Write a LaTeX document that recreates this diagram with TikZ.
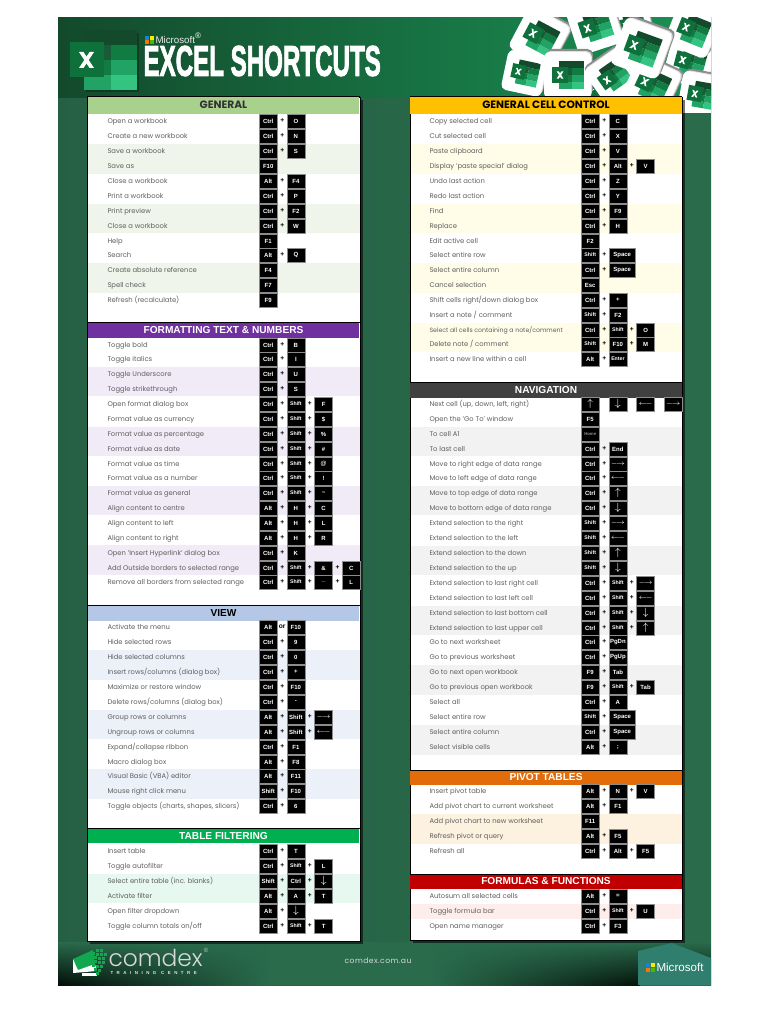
\documentclass[tikz,border=0pt]{standalone}
\usepackage{fontspec}
\usetikzlibrary{fadings}
\setmainfont{Poppins}
\newfontfamily\capfont{Liberation Sans}
\newfontfamily\titlefont[BoldFeatures={FakeBold=2.5}]{Liberation Sans}
\newfontfamily\spacedfont[LetterSpace=80]{Liberation Sans}
\newfontfamily\urlfont[LetterSpace=6]{Poppins}
\newfontfamily\thinfont{Poppins Light}
\definecolor{xlA}{HTML}{33C481}
\definecolor{xlB}{HTML}{21A366}
\definecolor{xlC}{HTML}{107C41}
\definecolor{xlD}{HTML}{185C37}
\definecolor{posterA}{HTML}{2A6B4C}
\definecolor{rowgrey}{HTML}{5F5F5F}
\definecolor{comgreen}{HTML}{12A84F}
\definecolor{barlime}{HTML}{A9D18E}
\definecolor{barpurple}{HTML}{7030A0}
\definecolor{barblue}{HTML}{B4C7E7}
\definecolor{bargreen}{HTML}{00B050}
\definecolor{bargold}{HTML}{FFC000}
\definecolor{bardark}{HTML}{404040}
\definecolor{barorange}{HTML}{E36C0A}
\definecolor{barred}{HTML}{C00000}
\definecolor{tintlime}{HTML}{EFF5EA}
\definecolor{tintpurple}{HTML}{F1EAF7}
\definecolor{tintblue}{HTML}{EBF0F9}
\definecolor{tintmint}{HTML}{E6F8EF}
\definecolor{tintyellow}{HTML}{FFFCE8}
\definecolor{tintgrey}{HTML}{F2F2F2}
\definecolor{tintorange}{HTML}{FDF2DF}
\definecolor{tintred}{HTML}{FDEEEB}
\definecolor{msteal}{HTML}{2F7E6E}

\tikzset{every picture/.style={line width=0.75pt}}
\tikzset{
  every pic/.style={transform shape},
  rowtext/.style={anchor=base west,inner sep=0pt,text=rowgrey,font=\rowsize},
  keycap/.style={anchor=west,inner sep=0pt,fill=black,draw=black!45,line width=0.3pt,text=white,
    minimum width=13.5pt,minimum height=10.6pt,font=\capfont\bfseries\fontsize{4.5}{5}\selectfont},
  keysep/.style={inner sep=0pt,text=black,font=\capfont\bfseries\fontsize{5}{5}\selectfont},
  sechead/.style={inner sep=0pt,minimum width=203.5pt,font=\capfont\bfseries\fontsize{7.6}{8}\selectfont},
  xlicon/.pic={
    \fill[xlA] (7.5,-30) -- (33.5,-30) -- (33.5,-15) -- (7.5,-15) -- cycle;
    \fill[xlB] (-19.5,-30) -- (7.5,-30) -- (7.5,-15) -- (-19.5,-15) -- cycle;
    \fill[xlB] (7.5,-15) -- (33.5,-15) -- (33.5,0) -- (7.5,0) -- cycle;
    \fill[xlC] (-19.5,-15) -- (7.5,-15) -- (7.5,0) -- (-19.5,0) -- cycle;
    \fill[xlC] (7.5,0) -- (33.5,0) -- (33.5,15) -- (7.5,15) -- cycle;
    \fill[xlD] (-19.5,0) -- (7.5,0) -- (7.5,15) -- (-19.5,15) -- cycle;
    \fill[xlD!80!black] (-19.5,15) -- (33.5,15) -- (33.5,30) -- (-19.5,30) -- cycle;
    \fill[xlC!90!black] (-33.5,-17) -- (0.5,-17) -- (0.5,18) -- (-33.5,18) -- cycle;
    \fill[white] (-24.5,-8) -- (-20,-8) -- (-9.5,8) -- (-14,8) -- cycle;
    \fill[white] (-14,-8) -- (-9.5,-8) -- (-20,8) -- (-24.5,8) -- cycle;
  },
  xltile/.pic={
    \fill[black!45,rounded corners=4pt] (-42,-38) rectangle (48,50);
    \fill[black!12,rounded corners=4pt] (-44,-44) rectangle (46,46);
    \fill[white,rounded corners=4pt] (-46,-46) rectangle (44,44);
    \pic[scale=0.9] at (0,0) {xlicon};
  },
  msflag/.pic={
    \fill[orange!90!red] (-4.3,-4.3) rectangle (-0.3,-0.3);
    \fill[green!60!black!70!yellow] (0.3,-4.3) rectangle (4.3,-0.3);
    \fill[cyan!70!blue] (-4.3,0.3) rectangle (-0.3,4.3);
    \fill[yellow!90!orange] (0.3,0.3) rectangle (4.3,4.3);
  },
}

\newcommand{\rowsize}{\fontsize{5.1}{6}\selectfont}
\newcommand{\kup}{{\fontsize{8}{8}\selectfont$\uparrow$}}
\newcommand{\kdown}{{\fontsize{8}{8}\selectfont$\downarrow$}}
\newcommand{\kleft}{{\fontsize{4.5}{5}\selectfont$\longleftarrow$}}
\newcommand{\kright}{{\fontsize{4.5}{5}\selectfont$\longrightarrow$}}
\newcommand{\widekey}[1]{\makebox[20pt]{#1}}
\newcommand{\kshift}{{\fontsize{3.9}{5}\selectfont Shift}}

% one line of a table: sign between keys, name, y, description, keys
\newcommand{\keyrow}[5][+]{
  \node[rowtext] (#2) at (\textx,#3+2.5) {#4};
  \foreach \k [count=\i] in {#5} {
    \pgfmathsetmacro{\kx}{\keyx+(\i-1)*27.7}
    \node[keycap] (#2k\i) at (\kx,#3) {\k};
    \ifnum\i>1 \node[keysep] (#2s\i) at (\kx-4.5,#3) {#1}; \fi
  }
}
% section title bar: name, y, height, fill, text colour, title
\newcommand{\sectionbar}[6]{
  \node[sechead,fill=#4,text=#5,minimum height=#3*0.75pt] (#1) at ({(\panelL+\panelR)/2},#2) {#6};
  \draw[black,line width=0.7pt] (#1.north west) -- (#1.north east);
}
\newcommand{\rowtint}[3]{\fill[#3] (\panelL,#1) rectangle (\panelR,#2);}

\begin{document}
\begin{tikzpicture}[x=0.75pt,y=0.75pt,yscale=-1,xscale=1]
    \useasboundingbox (0,0) rectangle (768,1024);

    %poster background
    \shade[left color=posterA!90!black,right color=posterA] (58,18) rectangle (711,985);
    \shade[left color=xlD!80!black,right color=xlC!70!xlA] (58,18) rectangle (711,97);
    \shade[left color=black!85!xlD,right color=posterA] (58,942) rectangle (270,985);
    \fill[posterA] (270,942) rectangle (430,985);
    \shade[left color=posterA,right color=black!80!xlD] (430,942) rectangle (640,985);
    \fill[black!80!xlD] (640,942) rectangle (711,985);
    \fill[posterA,path fading=south] (58,942) rectangle (711,985);

    %tiles top right
    \begin{scope}
      \clip (400,18) rectangle (711,112);
      \pic[scale=0.45,rotate=-12] at (525,73) {xltile};
      \pic[scale=0.42,rotate=15] at (632,24) {xltile};
      \pic[scale=0.5,rotate=-15] at (690,62) {xltile};
      \pic[scale=0.55,rotate=-25] at (597,95) {xltile};
      \pic[scale=0.52,rotate=-28] at (540,37) {xltile};
      \pic[scale=0.52,rotate=18] at (595,26) {xltile};
      \pic[scale=0.5,rotate=-22] at (693,30) {xltile};
      \pic[scale=0.52,rotate=0] at (568,75) {xltile};
      \pic[scale=0.48,rotate=35] at (613,76) {xltile};
      \pic[scale=0.52,rotate=-25] at (652,85) {xltile};
      \pic[scale=0.48,rotate=-10] at (702,95) {xltile};
      \pic[scale=0.55,rotate=-20] at (642,48) {xltile};
    \end{scope}

    %title
    \fill[black,opacity=0.25] (86,33) rectangle (139,92);
    \pic at (103.5,60) {xlicon};
    \pic at (149.5,40) {msflag};
    \node[inner sep=0pt,anchor=west,text=white!92!black,font=\capfont\fontsize{7.3}{9}\selectfont] (mstop) at (155,40) {Microsoft};
    \node[inner sep=0pt,text=white,font=\capfont\fontsize{6}{7}\selectfont] (mstopreg) at (198,36) {®};
    \node[inner sep=0pt,anchor=west,text=white,font=\titlefont\bfseries] (title) at (143,61) {\resizebox{178pt}{22.5pt}{EXCEL SHORTCUTS}};

    %left panel
    \fill[black,opacity=0.55] (90,100) rectangle (363,944);
    \fill[white] (87,97) rectangle (360,941);
    \draw[black,line width=0.6pt] (87,97) rectangle (360,941);
    \def\panelL{87.5}\def\panelR{359.5}\def\textx{107}\def\keyx{259}

    \rowtint{144}{174}{tintlime}
    \rowtint{204}{233}{tintlime}
    \rowtint{263}{293}{tintlime}
    \rowtint{367}{396}{tintpurple}
    \rowtint{427}{456}{tintpurple}
    \rowtint{486}{515}{tintpurple}
    \rowtint{545}{575}{tintpurple}
    \rowtint{650}{680}{tintblue}
    \rowtint{710}{739}{tintblue}
    \rowtint{769}{799}{tintblue}
    \rowtint{874}{903}{tintmint}

    \sectionbar{general}{105}{17}{barlime}{black!80}{\rmfamily\bfseries\fontsize{8}{8}\selectfont GENERAL}
    \keyrow{ga}{121}{Open a workbook}{Ctrl,O}
    \keyrow{gb}{136}{Create a new workbook}{Ctrl,N}
    \keyrow{gc}{151}{Save a workbook}{Ctrl,S}
    \keyrow{gd}{166}{Save as}{F10}
    \keyrow{ge}{181}{Close a workbook}{Alt,F4}
    \keyrow{gf}{196}{Print a workbook}{Ctrl,P}
    \keyrow{gg}{211}{Print preview}{Ctrl,F2}
    \keyrow{gh}{226}{Close a workbook}{Ctrl,W}
    \keyrow{gi}{241}{Help}{F1}
    \keyrow{gj}{255}{Search}{Alt,Q}
    \keyrow{gk}{270}{Create absolute reference}{F4}
    \keyrow{gl}{285}{Spell check}{F7}
    \keyrow{gm}{300}{Refresh (recalculate)}{F9}

    \sectionbar{formatting}{330}{15}{barpurple}{white}{FORMATTING TEXT \& NUMBERS}
    \keyrow{fa}{345}{Toggle bold}{Ctrl,B}
    \keyrow{fb}{359}{Toggle italics}{Ctrl,I}
    \keyrow{fc}{374}{Toggle Underscore}{Ctrl,U}
    \keyrow{fd}{389}{Toggle strikethrough}{Ctrl,S}
    \keyrow{fe}{404}{Open format dialog box}{Ctrl,\kshift,F}
    \keyrow{ff}{419}{Format value as currency}{Ctrl,\kshift,\$}
    \keyrow{fg}{434}{Format value as percentage}{Ctrl,\kshift,\%}
    \keyrow{fh}{449}{Format value as date}{Ctrl,\kshift,\#}
    \keyrow{fi}{464}{Format value as time}{Ctrl,\kshift,@}
    \keyrow{fj}{478}{Format value as a number}{Ctrl,\kshift,!}
    \keyrow{fk}{493}{Format value as general}{Ctrl,\kshift,\textasciitilde}
    \keyrow{fl}{508}{Align content to centre}{Alt,H,C}
    \keyrow{fm}{523}{Align content to left}{Alt,H,L}
    \keyrow{fn}{538}{Align content to right}{Alt,H,R}
    \keyrow{fo}{553}{Open 'Insert Hyperlink' dialog box}{Ctrl,K}
    \keyrow{fp}{568}{Add Outside borders to selected range}{Ctrl,\kshift,\&,C}
    \keyrow{fq}{582}{Remove all borders from selected range}{Ctrl,\kshift,\_,L}

    \sectionbar{view}{613}{15}{barblue}{black}{VIEW}
    \keyrow[or]{va}{627}{Activate the menu}{Alt,F10}
    \keyrow{vb}{642}{Hide selected rows}{Ctrl,9}
    \keyrow{vc}{657}{Hide selected columns}{Ctrl,0}
    \keyrow{vd}{672}{Insert rows/columns (dialog box)}{Ctrl,+}
    \keyrow{ve}{687}{Maximize or restore window}{Ctrl,F10}
    \keyrow{vf}{702}{Delete rows/columns (dialog box)}{Ctrl,-}
    \keyrow{vg}{717}{Group rows or columns}{Alt,Shift,\kright}
    \keyrow{vh}{732}{Ungroup rows or columns}{Alt,Shift,\kleft}
    \keyrow{vi}{747}{Expand/collapse ribbon}{Ctrl,F1}
    \keyrow{vj}{762}{Macro dialog box}{Alt,F8}
    \keyrow{vk}{776}{Visual Basic (VBA) editor}{Alt,F11}
    \keyrow{vl}{791}{Mouse right click menu}{Shift,F10}
    \keyrow{vm}{806}{Toggle objects (charts, shapes, slicers)}{Ctrl,6}

    \sectionbar{filtering}{836}{14.5}{bargreen}{white}{TABLE FILTERING}
    \keyrow{ta}{851}{Insert table}{Ctrl,T}
    \keyrow{tb}{866}{Toggle autofilter}{Ctrl,\kshift,L}
    \keyrow{tc}{881}{Select entire table (inc. blanks)}{Shift,Ctrl,\kdown}
    \keyrow{td}{896}{Activate filter}{Alt,A,T}
    \keyrow{te}{911}{Open filter dropdown}{Alt,\kdown}
    \keyrow{tf}{926}{Toggle column totals on/off}{Ctrl,\kshift,T}

    %right panel
    \fill[black,opacity=0.55] (413,100) rectangle (685,943);
    \fill[white] (410,97) rectangle (682,940);
    \draw[black,line width=0.6pt] (410,97) rectangle (682,940);
    \def\panelL{410.5}\def\panelR{681.5}\def\textx{429}\def\keyx{581}

    \rowtint{144}{174}{tintyellow}
    \rowtint{204}{233}{tintyellow}
    \rowtint{263}{293}{tintyellow}
    \rowtint{323}{352}{tintyellow}
    \rowtint{427}{456}{tintgrey}
    \rowtint{486}{515}{tintgrey}
    \rowtint{546}{575}{tintgrey}
    \rowtint{606}{635}{tintgrey}
    \rowtint{665}{695}{tintgrey}
    \rowtint{725}{755}{tintgrey}
    \rowtint{814}{844}{tintorange}
    \rowtint{904}{919}{tintred}

    \sectionbar{cellcontrol}{105}{17}{bargold}{black}{\rmfamily\bfseries\fontsize{8}{8}\selectfont GENERAL CELL CONTROL}
    \keyrow{ca}{121}{Copy selected cell}{Ctrl,C}
    \keyrow{cb}{136}{Cut selected cell}{Ctrl,X}
    \keyrow{cc}{151}{Paste clipboard}{Ctrl,V}
    \keyrow{cd}{166}{Display 'paste special' dialog}{Ctrl,Alt,V}
    \keyrow{ce}{181}{Undo last action}{Ctrl,Z}
    \keyrow{cf}{196}{Redo last action}{Ctrl,Y}
    \keyrow{cg}{211}{Find}{Ctrl,F9}
    \keyrow{ch}{226}{Replace}{Ctrl,H}
    \keyrow{ci}{241}{Edit active cell}{F2}
    \keyrow{cj}{255}{Select entire row}{\kshift,\widekey{Space}}
    \keyrow{ck}{270}{Select entire column}{Ctrl,\widekey{Space}}
    \keyrow{cl}{285}{Cancel selection}{Esc}
    \keyrow{cm}{300}{Shift cells right/down dialog box}{Ctrl,+}
    \keyrow{cn}{315}{Insert a note / comment}{\kshift,F2}
    \keyrow{co}{330}{{\fontsize{4.65}{5}\selectfont Select all cells containing a note/comment}}{Ctrl,\kshift,O}
    \keyrow{cp}{344}{Delete note / comment}{\kshift,F10,M}
    \keyrow{cq}{359}{Insert a new line within a cell}{Alt,{\fontsize{3.9}{5}\selectfont Enter}}

    \sectionbar{navigation}{390}{15}{bardark}{white}{NAVIGATION}
    \keyrow[]{na}{404}{Next cell (up, down, left, right)}{\kup,\kdown,\kleft,\kright}
    \keyrow{nb}{419}{Open the 'Go To' window}{F5}
    \keyrow{nc}{434}{To cell A1}{{\color{black!45}\fontsize{3.2}{4}\selectfont Home}}
    \keyrow{nd}{449}{To last cell}{Ctrl,End}
    \keyrow{ne}{464}{Move to right edge of data range}{Ctrl,\kright}
    \keyrow{nf}{478}{Move to left edge of data range}{Ctrl,\kleft}
    \keyrow{ng}{493}{Move to top edge of data range}{Ctrl,\kup}
    \keyrow{nh}{508}{Move to bottom edge of data range}{Ctrl,\kdown}
    \keyrow{ni}{523}{Extend selection to the right}{\kshift,\kright}
    \keyrow{nj}{538}{Extend selection to the left}{\kshift,\kleft}
    \keyrow{nk}{553}{Extend selection to the down}{\kshift,\kup}
    \keyrow{nl}{568}{Extend selection to the up}{\kshift,\kdown}
    \keyrow{nm}{583}{Extend selection to last right cell}{Ctrl,\kshift,\kright}
    \keyrow{nn}{598}{Extend selection to last left cell}{Ctrl,\kshift,\kleft}
    \keyrow{no}{613}{Extend selection to last bottom cell}{Ctrl,\kshift,\kdown}
    \keyrow{np}{628}{Extend selection to last upper cell}{Ctrl,\kshift,\kup}
    \keyrow{nq}{642}{Go to next worksheet}{Ctrl,PgDn}
    \keyrow{nr}{657}{Go to previous worksheet}{Ctrl,PgUp}
    \keyrow{ns}{672}{Go to next open workbook}{F9,Tab}
    \keyrow{nt}{687}{Go to previous open workbook}{F9,\kshift,Tab}
    \keyrow{nu}{702}{Select all}{Ctrl,A}
    \keyrow{nv}{717}{Select entire row}{\kshift,\widekey{Space}}
    \keyrow{nw}{732}{Select entire column}{Ctrl,\widekey{Space}}
    \keyrow{nx}{747}{Select visible cells}{Alt,;}

    \sectionbar{pivot}{777.5}{14}{barorange}{white}{PIVOT TABLES}
    \keyrow{pa}{791}{Insert pivot table}{Alt,N,V}
    \keyrow{pb}{806}{Add pivot chart to current worksheet}{Alt,F1}
    \keyrow{pc}{821}{Add pivot chart to new worksheet}{F11}
    \keyrow{pd}{836}{Refresh pivot or query}{Alt,F5}
    \keyrow{pe}{851}{Refresh all}{Ctrl,Alt,F5}

    \sectionbar{formulas}{881.5}{14}{barred}{white}{FORMULAS \& FUNCTIONS}
    \keyrow{ua}{896}{Autosum all selected cells}{Alt,=}
    \keyrow{ub}{911}{Toggle formula bar}{Ctrl,\kshift,U}
    \keyrow{uc}{926}{Open name manager}{Ctrl,F3}

    %comdex logo
    \fill[comgreen] (73,959) -- (93,950) -- (95,964) -- (78,970) -- cycle;
    \fill[white] (73,959) -- (78,970) -- (95,964) -- (97,971) -- (73,973) -- cycle;
    \fill[white] (82,973) rectangle (97,975.5);
    \foreach \px/\py in {96/949,100/949,92/952,96/953,100/953,104/953,94/956,98/957,102/957,90/960,94/960,98/961,102/961,92/964,96/965,100/965,94/968,98/969,96/972}
      \fill[comgreen] (\px,\py) rectangle +(3,3);
    \node[inner sep=0pt,anchor=base west,text=white!85!black,font=\thinfont\fontsize{17.5}{18}\selectfont] (comdex) at (108,966) {comdex};
    \node[inner sep=0pt,anchor=west,text=white!90!black,font=\spacedfont\bfseries\fontsize{3.3}{4}\selectfont] (training) at (110,972.5) {TRAINING CENTRE};
    \node[inner sep=0pt,text=white!80!black,font=\capfont\fontsize{4.5}{5}\selectfont] (comdexmark) at (206,950) {©};
    \node[inner sep=0pt,text=white!85!black,font=\urlfont\fontsize{5.7}{7}\selectfont] (comdexurl) at (378,961) {comdex.com.au};

    %microsoft corner
    \fill[msteal] (638,951) -- (672,943) -- (711,958) -- (711,985) -- (638,985) -- cycle;
    \pic at (650.5,967.5) {msflag};
    \node[inner sep=0pt,anchor=west,text=white,font=\capfont\fontsize{8.7}{11}\selectfont] (msfoot) at (656,967) {Microsoft};
\end{tikzpicture}
\end{document}
